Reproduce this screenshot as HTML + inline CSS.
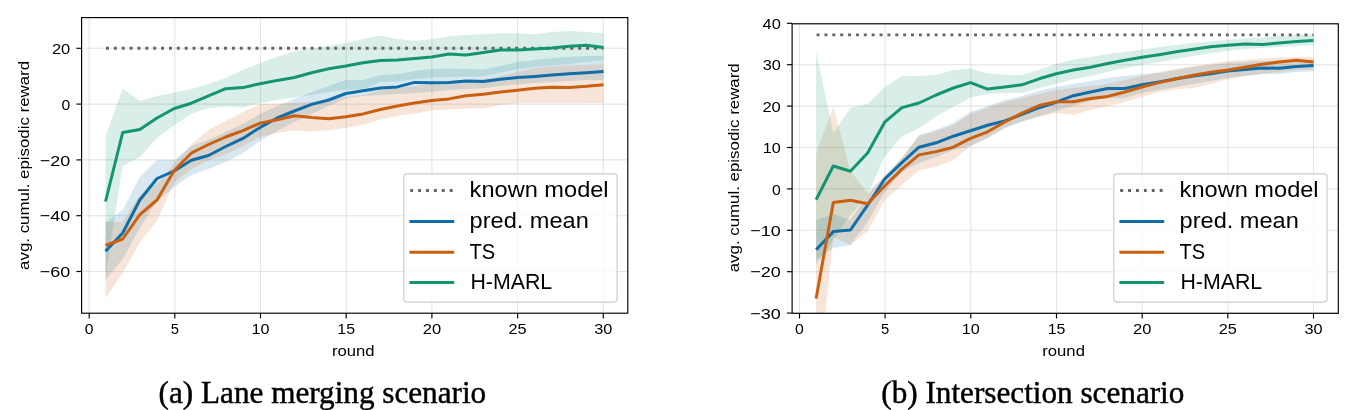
<!DOCTYPE html>
<html><head><meta charset="utf-8"><style>
html,body{margin:0;padding:0;background:#fff;}
svg{display:block;}
svg{will-change:transform;}
</style></head><body>
<svg width="1356" height="410" viewBox="0 0 1356 410">
<rect width="1356" height="410" fill="#fff"/>
<line x1="89.2" y1="17.6" x2="89.2" y2="313.2" stroke="#b0b0b0" stroke-opacity="0.33" stroke-width="1.1"/>
<line x1="174.8" y1="17.6" x2="174.8" y2="313.2" stroke="#b0b0b0" stroke-opacity="0.33" stroke-width="1.1"/>
<line x1="260.5" y1="17.6" x2="260.5" y2="313.2" stroke="#b0b0b0" stroke-opacity="0.33" stroke-width="1.1"/>
<line x1="346.2" y1="17.6" x2="346.2" y2="313.2" stroke="#b0b0b0" stroke-opacity="0.33" stroke-width="1.1"/>
<line x1="431.9" y1="17.6" x2="431.9" y2="313.2" stroke="#b0b0b0" stroke-opacity="0.33" stroke-width="1.1"/>
<line x1="517.6" y1="17.6" x2="517.6" y2="313.2" stroke="#b0b0b0" stroke-opacity="0.33" stroke-width="1.1"/>
<line x1="603.3" y1="17.6" x2="603.3" y2="313.2" stroke="#b0b0b0" stroke-opacity="0.33" stroke-width="1.1"/>
<line x1="81.6" y1="48.3" x2="627.8" y2="48.3" stroke="#b0b0b0" stroke-opacity="0.33" stroke-width="1.1"/>
<line x1="81.6" y1="104.1" x2="627.8" y2="104.1" stroke="#b0b0b0" stroke-opacity="0.33" stroke-width="1.1"/>
<line x1="81.6" y1="159.9" x2="627.8" y2="159.9" stroke="#b0b0b0" stroke-opacity="0.33" stroke-width="1.1"/>
<line x1="81.6" y1="215.7" x2="627.8" y2="215.7" stroke="#b0b0b0" stroke-opacity="0.33" stroke-width="1.1"/>
<line x1="81.6" y1="271.5" x2="627.8" y2="271.5" stroke="#b0b0b0" stroke-opacity="0.33" stroke-width="1.1"/>
<clipPath id="c1"><rect x="81.6" y="17.6" width="546.1999999999999" height="295.59999999999997"/></clipPath>
<g clip-path="url(#c1)">
<polygon points="105.5,222.0 122.7,210.0 139.8,177.0 157.0,160.0 174.2,160.0 191.4,146.0 208.5,140.0 225.7,132.0 242.9,124.0 260.1,114.0 277.2,106.0 294.4,99.0 311.6,92.0 328.7,86.0 345.9,80.0 363.1,80.0 380.3,75.0 397.4,74.0 414.6,71.0 431.8,69.0 448.9,68.5 466.1,69.0 483.3,69.5 500.5,66.0 517.6,62.0 534.8,60.0 552.0,58.0 569.1,57.0 586.3,56.0 603.5,55.7 603.5,80.0 586.3,80.0 569.1,81.0 552.0,82.0 534.8,83.0 517.6,84.3 500.5,86.0 483.3,88.0 466.1,89.0 448.9,90.0 431.8,92.0 414.6,93.0 397.4,94.0 380.3,95.0 363.1,96.0 345.9,98.0 328.7,106.0 311.6,114.0 294.4,122.0 277.2,131.0 260.1,141.0 242.9,153.0 225.7,162.0 208.5,169.0 191.4,175.0 174.2,187.0 157.0,201.0 139.8,228.0 122.7,259.0 105.5,280.0" fill="#0f6ea8" fill-opacity="0.16"/>
<polygon points="105.5,222.0 122.7,222.0 139.8,195.0 157.0,184.0 174.2,163.4 191.4,144.4 208.5,130.0 225.7,121.0 242.9,112.0 260.1,104.0 277.2,104.0 294.4,103.0 311.6,102.0 328.7,100.0 345.9,97.0 363.1,95.0 380.3,90.0 397.4,88.0 414.6,86.0 431.8,84.0 448.9,82.0 466.1,80.0 483.3,79.0 500.5,76.0 517.6,72.0 534.8,68.0 552.0,66.5 569.1,65.5 586.3,65.0 603.5,64.0 603.5,103.0 586.3,103.0 569.1,102.8 552.0,102.8 534.8,102.8 517.6,103.1 500.5,105.0 483.3,108.5 466.1,108.5 448.9,109.4 431.8,110.5 414.6,113.8 397.4,116.0 380.3,119.3 363.1,124.7 345.9,128.0 328.7,130.0 311.6,131.5 294.4,130.5 277.2,133.0 260.1,137.0 242.9,146.0 225.7,154.6 208.5,160.5 191.4,169.3 174.2,182.5 157.0,220.5 139.8,242.5 122.7,273.0 105.5,298.0" fill="#c9600f" fill-opacity="0.16"/>
<polygon points="105.5,136.0 122.7,88.5 139.8,101.0 157.0,96.0 174.2,92.5 191.4,89.0 208.5,84.0 225.7,78.0 242.9,70.0 260.1,63.0 277.2,57.0 294.4,51.5 311.6,48.5 328.7,46.0 345.9,43.0 363.1,39.0 380.3,35.5 397.4,39.0 414.6,40.9 431.8,39.0 448.9,36.5 466.1,35.0 483.3,34.0 500.5,33.2 517.6,33.5 534.8,34.3 552.0,32.0 569.1,31.0 586.3,32.0 603.5,33.2 603.5,60.0 586.3,62.0 569.1,64.0 552.0,65.5 534.8,67.0 517.6,69.0 500.5,72.5 483.3,76.6 466.1,76.8 448.9,77.0 431.8,77.5 414.6,79.0 397.4,81.5 380.3,82.0 363.1,89.0 345.9,89.6 328.7,92.0 311.6,95.0 294.4,97.6 277.2,100.0 260.1,103.0 242.9,107.5 225.7,106.5 208.5,108.0 191.4,114.0 174.2,125.0 157.0,138.0 139.8,157.0 122.7,166.0 105.5,275.0" fill="#149570" fill-opacity="0.16"/>
<line x1="105.5" y1="48.3" x2="603.5" y2="48.3" stroke="#646464" stroke-width="2.9" stroke-dasharray="2.95 4.92" stroke-dashoffset="-0.5"/>
<polyline points="105.5,251.3 122.7,233.0 139.8,200.0 157.0,178.5 174.2,171.0 191.4,160.2 208.5,155.5 225.7,146.5 242.9,138.4 260.1,127.4 277.2,118.0 294.4,111.0 311.6,104.4 328.7,100.0 345.9,93.5 363.1,90.7 380.3,88.0 397.4,86.9 414.6,82.4 431.8,82.8 448.9,82.6 466.1,81.0 483.3,81.5 500.5,79.3 517.6,77.5 534.8,76.6 552.0,74.9 569.1,73.7 586.3,72.7 603.5,71.5" fill="none" stroke="#0f6ea8" stroke-width="3" stroke-linejoin="round" stroke-linecap="butt"/>
<polyline points="105.5,245.4 122.7,239.0 139.8,214.7 157.0,200.0 174.2,170.5 191.4,153.0 208.5,144.5 225.7,137.0 242.9,130.7 260.1,123.1 277.2,119.8 294.4,115.8 311.6,117.6 328.7,118.7 345.9,116.8 363.1,113.9 380.3,109.5 397.4,106.0 414.6,103.0 431.8,100.4 448.9,98.9 466.1,95.7 483.3,94.3 500.5,92.1 517.6,90.2 534.8,88.2 552.0,87.2 569.1,87.4 586.3,86.3 603.5,84.8" fill="none" stroke="#c9600f" stroke-width="3" stroke-linejoin="round" stroke-linecap="butt"/>
<polyline points="105.5,201.5 122.7,132.5 139.8,129.5 157.0,118.0 174.2,108.5 191.4,103.2 208.5,95.8 225.7,88.7 242.9,87.6 260.1,83.7 277.2,80.4 294.4,77.5 311.6,72.7 328.7,68.7 345.9,66.0 363.1,62.8 380.3,60.6 397.4,59.9 414.6,58.4 431.8,56.9 448.9,54.0 466.1,55.1 483.3,52.5 500.5,50.1 517.6,50.1 534.8,49.0 552.0,48.1 569.1,46.3 586.3,45.2 603.5,47.4" fill="none" stroke="#149570" stroke-width="3" stroke-linejoin="round" stroke-linecap="butt"/>
</g>
<rect x="81.6" y="17.6" width="546.1999999999999" height="295.59999999999997" fill="none" stroke="#000" stroke-width="1.15"/>
<line x1="89.2" y1="313.2" x2="89.2" y2="318.4" stroke="#000" stroke-width="1.15"/>
<text x="89.2" y="333.9" font-size="15.4" font-family="Liberation Sans" text-anchor="middle" textLength="8.76" lengthAdjust="spacingAndGlyphs">0</text>
<line x1="174.8" y1="313.2" x2="174.8" y2="318.4" stroke="#000" stroke-width="1.15"/>
<text x="174.8" y="333.9" font-size="15.4" font-family="Liberation Sans" text-anchor="middle" textLength="8.24" lengthAdjust="spacingAndGlyphs">5</text>
<line x1="260.5" y1="313.2" x2="260.5" y2="318.4" stroke="#000" stroke-width="1.15"/>
<text x="260.5" y="333.9" font-size="15.4" font-family="Liberation Sans" text-anchor="middle" textLength="17.99" lengthAdjust="spacingAndGlyphs">10</text>
<line x1="346.2" y1="313.2" x2="346.2" y2="318.4" stroke="#000" stroke-width="1.15"/>
<text x="346.2" y="333.9" font-size="15.4" font-family="Liberation Sans" text-anchor="middle" textLength="17.70" lengthAdjust="spacingAndGlyphs">15</text>
<line x1="431.9" y1="313.2" x2="431.9" y2="318.4" stroke="#000" stroke-width="1.15"/>
<text x="431.9" y="333.9" font-size="15.4" font-family="Liberation Sans" text-anchor="middle" textLength="18.40" lengthAdjust="spacingAndGlyphs">20</text>
<line x1="517.6" y1="313.2" x2="517.6" y2="318.4" stroke="#000" stroke-width="1.15"/>
<text x="517.6" y="333.9" font-size="15.4" font-family="Liberation Sans" text-anchor="middle" textLength="18.12" lengthAdjust="spacingAndGlyphs">25</text>
<line x1="603.3" y1="313.2" x2="603.3" y2="318.4" stroke="#000" stroke-width="1.15"/>
<text x="603.3" y="333.9" font-size="15.4" font-family="Liberation Sans" text-anchor="middle" textLength="18.14" lengthAdjust="spacingAndGlyphs">30</text>
<line x1="76.39999999999999" y1="48.3" x2="81.6" y2="48.3" stroke="#000" stroke-width="1.15"/>
<text x="70.3" y="53.90" font-size="15.4" font-family="Liberation Sans" text-anchor="end" textLength="18.40" lengthAdjust="spacingAndGlyphs">20</text>
<line x1="76.39999999999999" y1="104.1" x2="81.6" y2="104.1" stroke="#000" stroke-width="1.15"/>
<text x="70.3" y="109.70" font-size="15.4" font-family="Liberation Sans" text-anchor="end" textLength="8.76" lengthAdjust="spacingAndGlyphs">0</text>
<line x1="76.39999999999999" y1="159.9" x2="81.6" y2="159.9" stroke="#000" stroke-width="1.15"/>
<text x="70.3" y="165.50" font-size="15.4" font-family="Liberation Sans" text-anchor="end" textLength="30.50" lengthAdjust="spacingAndGlyphs">−20</text>
<line x1="76.39999999999999" y1="215.7" x2="81.6" y2="215.7" stroke="#000" stroke-width="1.15"/>
<text x="70.3" y="221.30" font-size="15.4" font-family="Liberation Sans" text-anchor="end" textLength="30.50" lengthAdjust="spacingAndGlyphs">−40</text>
<line x1="76.39999999999999" y1="271.5" x2="81.6" y2="271.5" stroke="#000" stroke-width="1.15"/>
<text x="70.3" y="277.10" font-size="15.4" font-family="Liberation Sans" text-anchor="end" textLength="30.50" lengthAdjust="spacingAndGlyphs">−60</text>
<text x="353.3" y="355.6" font-size="15.2" font-family="Liberation Sans" text-anchor="middle" textLength="42.65" lengthAdjust="spacingAndGlyphs">round</text>
<text x="0" y="0" font-size="15.2" font-family="Liberation Sans" text-anchor="middle" textLength="208.98" lengthAdjust="spacingAndGlyphs" transform="translate(28.6,165.4) rotate(-90)">avg. cumul. episodic reward</text>
<rect x="403.8" y="173.8" width="213.3" height="128.3" rx="3" ry="3" fill="#fff" fill-opacity="0.8" stroke="#cccccc" stroke-width="1.15"/>
<line x1="410.2" y1="190.5" x2="453.4" y2="190.5" stroke="#646464" stroke-width="2.9" stroke-dasharray="2.9 5.0"/>
<line x1="409.4" y1="221.6" x2="454.2" y2="221.6" stroke="#0f6ea8" stroke-width="3"/>
<line x1="409.4" y1="252.2" x2="454.2" y2="252.2" stroke="#c9600f" stroke-width="3"/>
<line x1="409.4" y1="282.6" x2="454.2" y2="282.6" stroke="#149570" stroke-width="3"/>
<text x="469.6" y="197.3" font-size="21.4" font-family="Liberation Sans" text-anchor="start" textLength="139.03" lengthAdjust="spacingAndGlyphs">known model</text>
<text x="469.6" y="227.9" font-size="21.4" font-family="Liberation Sans" text-anchor="start" textLength="119.17" lengthAdjust="spacingAndGlyphs">pred. mean</text>
<text x="469.6" y="258.8" font-size="21.4" font-family="Liberation Sans" text-anchor="start" textLength="25.64" lengthAdjust="spacingAndGlyphs">TS</text>
<text x="470.4" y="289.1" font-size="21.4" font-family="Liberation Sans" text-anchor="start" textLength="81.80" lengthAdjust="spacingAndGlyphs">H-MARL</text>
<line x1="799.5" y1="23.8" x2="799.5" y2="313.3" stroke="#b0b0b0" stroke-opacity="0.33" stroke-width="1.1"/>
<line x1="885.1" y1="23.8" x2="885.1" y2="313.3" stroke="#b0b0b0" stroke-opacity="0.33" stroke-width="1.1"/>
<line x1="970.8" y1="23.8" x2="970.8" y2="313.3" stroke="#b0b0b0" stroke-opacity="0.33" stroke-width="1.1"/>
<line x1="1056.5" y1="23.8" x2="1056.5" y2="313.3" stroke="#b0b0b0" stroke-opacity="0.33" stroke-width="1.1"/>
<line x1="1142.2" y1="23.8" x2="1142.2" y2="313.3" stroke="#b0b0b0" stroke-opacity="0.33" stroke-width="1.1"/>
<line x1="1227.8" y1="23.8" x2="1227.8" y2="313.3" stroke="#b0b0b0" stroke-opacity="0.33" stroke-width="1.1"/>
<line x1="1313.5" y1="23.8" x2="1313.5" y2="313.3" stroke="#b0b0b0" stroke-opacity="0.33" stroke-width="1.1"/>
<line x1="792.1" y1="23.3" x2="1338.3" y2="23.3" stroke="#b0b0b0" stroke-opacity="0.33" stroke-width="1.1"/>
<line x1="792.1" y1="64.7" x2="1338.3" y2="64.7" stroke="#b0b0b0" stroke-opacity="0.33" stroke-width="1.1"/>
<line x1="792.1" y1="106.1" x2="1338.3" y2="106.1" stroke="#b0b0b0" stroke-opacity="0.33" stroke-width="1.1"/>
<line x1="792.1" y1="147.5" x2="1338.3" y2="147.5" stroke="#b0b0b0" stroke-opacity="0.33" stroke-width="1.1"/>
<line x1="792.1" y1="188.9" x2="1338.3" y2="188.9" stroke="#b0b0b0" stroke-opacity="0.33" stroke-width="1.1"/>
<line x1="792.1" y1="230.3" x2="1338.3" y2="230.3" stroke="#b0b0b0" stroke-opacity="0.33" stroke-width="1.1"/>
<line x1="792.1" y1="271.7" x2="1338.3" y2="271.7" stroke="#b0b0b0" stroke-opacity="0.33" stroke-width="1.1"/>
<line x1="792.1" y1="313.1" x2="1338.3" y2="313.1" stroke="#b0b0b0" stroke-opacity="0.33" stroke-width="1.1"/>
<clipPath id="c2"><rect x="792.1" y="23.8" width="546.1999999999999" height="289.5"/></clipPath>
<g clip-path="url(#c2)">
<polygon points="816.1,220.0 833.3,214.0 850.4,220.0 867.6,195.0 884.7,176.0 901.9,158.0 919.0,135.0 936.2,129.7 953.3,123.0 970.5,112.0 987.6,106.0 1004.8,100.0 1021.9,96.0 1039.1,91.0 1056.2,87.0 1073.4,84.0 1090.5,81.0 1107.7,78.0 1124.8,76.0 1142.0,74.0 1159.1,73.0 1176.3,70.0 1193.4,67.0 1210.6,65.0 1227.8,63.0 1244.9,62.0 1262.1,61.0 1279.2,60.5 1296.4,60.0 1313.5,59.5 1313.5,71.6 1296.4,72.0 1279.2,74.0 1262.1,74.0 1244.9,76.0 1227.8,78.0 1210.6,81.0 1193.4,84.0 1176.3,87.0 1159.1,90.0 1142.0,93.0 1124.8,98.0 1107.7,98.0 1090.5,101.0 1073.4,106.0 1056.2,111.0 1039.1,116.0 1021.9,122.0 1004.8,128.0 987.6,138.0 970.5,146.0 953.3,150.0 936.2,157.0 919.0,163.0 901.9,172.0 884.7,192.0 867.6,222.0 850.4,245.0 833.3,248.0 816.1,260.0" fill="#0f6ea8" fill-opacity="0.16"/>
<polygon points="816.1,153.0 833.3,106.6 850.4,171.0 867.6,193.0 884.7,176.0 901.9,158.0 919.0,136.0 936.2,131.0 953.3,125.0 970.5,114.0 987.6,108.0 1004.8,102.0 1021.9,98.0 1039.1,94.0 1056.2,90.0 1073.4,88.0 1090.5,86.0 1107.7,84.0 1124.8,80.0 1142.0,76.0 1159.1,72.0 1176.3,69.0 1193.4,66.0 1210.6,63.5 1227.8,61.0 1244.9,60.0 1262.1,58.5 1279.2,57.5 1296.4,57.0 1313.5,57.3 1313.5,69.4 1296.4,70.0 1279.2,72.0 1262.1,74.0 1244.9,76.0 1227.8,79.3 1210.6,84.0 1193.4,88.0 1176.3,89.0 1159.1,92.0 1142.0,97.0 1124.8,102.0 1107.7,106.0 1090.5,110.0 1073.4,115.0 1056.2,113.0 1039.1,117.0 1021.9,121.0 1004.8,128.0 987.6,138.0 970.5,146.0 953.3,160.0 936.2,167.0 919.0,170.0 901.9,185.0 884.7,200.0 867.6,231.0 850.4,245.0 833.3,237.0 816.1,400.0" fill="#c9600f" fill-opacity="0.16"/>
<polygon points="816.1,52.0 833.3,133.0 850.4,108.0 867.6,103.7 884.7,87.0 901.9,76.0 919.0,76.0 936.2,74.7 953.3,70.2 970.5,68.6 987.6,73.4 1004.8,74.7 1021.9,75.0 1039.1,70.0 1056.2,64.0 1073.4,59.5 1090.5,57.0 1107.7,54.0 1124.8,52.0 1142.0,49.6 1159.1,47.0 1176.3,45.0 1193.4,43.0 1210.6,41.5 1227.8,39.8 1244.9,38.5 1262.1,37.5 1279.2,36.0 1296.4,35.0 1313.5,34.3 1313.5,45.2 1296.4,46.0 1279.2,47.0 1262.1,48.0 1244.9,49.0 1227.8,50.7 1210.6,53.0 1193.4,56.0 1176.3,59.0 1159.1,62.0 1142.0,65.0 1124.8,68.0 1107.7,72.0 1090.5,76.0 1073.4,79.3 1056.2,84.0 1039.1,88.0 1021.9,93.0 1004.8,93.0 987.6,94.0 970.5,97.5 953.3,106.9 936.2,116.3 919.0,128.4 901.9,136.4 884.7,156.5 867.6,195.0 850.4,215.0 833.3,240.0 816.1,265.0" fill="#149570" fill-opacity="0.16"/>
<line x1="816.1" y1="34.9" x2="1313.5" y2="34.9" stroke="#646464" stroke-width="2.9" stroke-dasharray="2.95 4.92" stroke-dashoffset="-0.5"/>
<polyline points="816.1,249.8 833.3,231.6 850.4,230.0 867.6,205.2 884.7,179.0 901.9,162.6 919.0,147.2 936.2,142.8 953.3,136.2 970.5,130.7 987.6,125.2 1004.8,120.9 1021.9,114.3 1039.1,107.7 1056.2,102.2 1073.4,95.7 1090.5,92.0 1107.7,88.5 1124.8,88.5 1142.0,84.8 1159.1,81.9 1176.3,78.8 1193.4,76.0 1210.6,73.8 1227.8,70.9 1244.9,69.4 1262.1,67.9 1279.2,68.3 1296.4,66.5 1313.5,65.4" fill="none" stroke="#0f6ea8" stroke-width="3" stroke-linejoin="round" stroke-linecap="butt"/>
<polyline points="816.1,298.5 833.3,202.4 850.4,200.2 867.6,203.7 884.7,186.0 901.9,169.1 919.0,154.9 936.2,151.6 953.3,147.2 970.5,138.4 987.6,131.8 1004.8,122.0 1021.9,113.2 1039.1,105.5 1056.2,101.8 1073.4,101.7 1090.5,98.6 1107.7,96.4 1124.8,92.0 1142.0,87.0 1159.1,82.6 1176.3,78.8 1193.4,75.3 1210.6,72.2 1227.8,70.0 1244.9,67.2 1262.1,64.3 1279.2,62.1 1296.4,60.2 1313.5,62.1" fill="none" stroke="#c9600f" stroke-width="3" stroke-linejoin="round" stroke-linecap="butt"/>
<polyline points="816.1,199.8 833.3,166.0 850.4,171.3 867.6,153.0 884.7,122.2 901.9,107.6 919.0,103.0 936.2,95.0 953.3,88.0 970.5,82.6 987.6,89.1 1004.8,86.9 1021.9,84.8 1039.1,78.8 1056.2,73.8 1073.4,70.0 1090.5,67.2 1107.7,63.5 1124.8,60.2 1142.0,57.3 1159.1,54.7 1176.3,51.8 1193.4,49.2 1210.6,46.8 1227.8,45.2 1244.9,44.1 1262.1,44.6 1279.2,43.0 1296.4,41.5 1313.5,40.4" fill="none" stroke="#149570" stroke-width="3" stroke-linejoin="round" stroke-linecap="butt"/>
</g>
<rect x="792.1" y="23.8" width="546.1999999999999" height="289.5" fill="none" stroke="#000" stroke-width="1.15"/>
<line x1="799.5" y1="313.3" x2="799.5" y2="318.5" stroke="#000" stroke-width="1.15"/>
<text x="799.5" y="333.9" font-size="15.4" font-family="Liberation Sans" text-anchor="middle" textLength="8.76" lengthAdjust="spacingAndGlyphs">0</text>
<line x1="885.1" y1="313.3" x2="885.1" y2="318.5" stroke="#000" stroke-width="1.15"/>
<text x="885.1" y="333.9" font-size="15.4" font-family="Liberation Sans" text-anchor="middle" textLength="8.24" lengthAdjust="spacingAndGlyphs">5</text>
<line x1="970.8" y1="313.3" x2="970.8" y2="318.5" stroke="#000" stroke-width="1.15"/>
<text x="970.8" y="333.9" font-size="15.4" font-family="Liberation Sans" text-anchor="middle" textLength="17.99" lengthAdjust="spacingAndGlyphs">10</text>
<line x1="1056.5" y1="313.3" x2="1056.5" y2="318.5" stroke="#000" stroke-width="1.15"/>
<text x="1056.5" y="333.9" font-size="15.4" font-family="Liberation Sans" text-anchor="middle" textLength="17.70" lengthAdjust="spacingAndGlyphs">15</text>
<line x1="1142.2" y1="313.3" x2="1142.2" y2="318.5" stroke="#000" stroke-width="1.15"/>
<text x="1142.2" y="333.9" font-size="15.4" font-family="Liberation Sans" text-anchor="middle" textLength="18.40" lengthAdjust="spacingAndGlyphs">20</text>
<line x1="1227.8" y1="313.3" x2="1227.8" y2="318.5" stroke="#000" stroke-width="1.15"/>
<text x="1227.8" y="333.9" font-size="15.4" font-family="Liberation Sans" text-anchor="middle" textLength="18.12" lengthAdjust="spacingAndGlyphs">25</text>
<line x1="1313.5" y1="313.3" x2="1313.5" y2="318.5" stroke="#000" stroke-width="1.15"/>
<text x="1313.5" y="333.9" font-size="15.4" font-family="Liberation Sans" text-anchor="middle" textLength="18.14" lengthAdjust="spacingAndGlyphs">30</text>
<line x1="786.9" y1="23.3" x2="792.1" y2="23.3" stroke="#000" stroke-width="1.15"/>
<text x="780.8" y="28.94" font-size="15.4" font-family="Liberation Sans" text-anchor="end" textLength="18.27" lengthAdjust="spacingAndGlyphs">40</text>
<line x1="786.9" y1="64.7" x2="792.1" y2="64.7" stroke="#000" stroke-width="1.15"/>
<text x="780.8" y="70.33" font-size="15.4" font-family="Liberation Sans" text-anchor="end" textLength="18.14" lengthAdjust="spacingAndGlyphs">30</text>
<line x1="786.9" y1="106.1" x2="792.1" y2="106.1" stroke="#000" stroke-width="1.15"/>
<text x="780.8" y="111.72" font-size="15.4" font-family="Liberation Sans" text-anchor="end" textLength="18.40" lengthAdjust="spacingAndGlyphs">20</text>
<line x1="786.9" y1="147.5" x2="792.1" y2="147.5" stroke="#000" stroke-width="1.15"/>
<text x="780.8" y="153.11" font-size="15.4" font-family="Liberation Sans" text-anchor="end" textLength="17.99" lengthAdjust="spacingAndGlyphs">10</text>
<line x1="786.9" y1="188.9" x2="792.1" y2="188.9" stroke="#000" stroke-width="1.15"/>
<text x="780.8" y="194.50" font-size="15.4" font-family="Liberation Sans" text-anchor="end" textLength="8.76" lengthAdjust="spacingAndGlyphs">0</text>
<line x1="786.9" y1="230.3" x2="792.1" y2="230.3" stroke="#000" stroke-width="1.15"/>
<text x="780.8" y="235.89" font-size="15.4" font-family="Liberation Sans" text-anchor="end" textLength="30.50" lengthAdjust="spacingAndGlyphs">−10</text>
<line x1="786.9" y1="271.7" x2="792.1" y2="271.7" stroke="#000" stroke-width="1.15"/>
<text x="780.8" y="277.28" font-size="15.4" font-family="Liberation Sans" text-anchor="end" textLength="30.50" lengthAdjust="spacingAndGlyphs">−20</text>
<line x1="786.9" y1="313.1" x2="792.1" y2="313.1" stroke="#000" stroke-width="1.15"/>
<text x="780.8" y="318.67" font-size="15.4" font-family="Liberation Sans" text-anchor="end" textLength="30.50" lengthAdjust="spacingAndGlyphs">−30</text>
<text x="1063.6" y="355.6" font-size="15.2" font-family="Liberation Sans" text-anchor="middle" textLength="42.65" lengthAdjust="spacingAndGlyphs">round</text>
<text x="0" y="0" font-size="15.2" font-family="Liberation Sans" text-anchor="middle" textLength="208.98" lengthAdjust="spacingAndGlyphs" transform="translate(739.3,167.8) rotate(-90)">avg. cumul. episodic reward</text>
<rect x="1113.8" y="173.8" width="213.3" height="128.3" rx="3" ry="3" fill="#fff" fill-opacity="0.8" stroke="#cccccc" stroke-width="1.15"/>
<line x1="1120.2" y1="190.5" x2="1163.4" y2="190.5" stroke="#646464" stroke-width="2.9" stroke-dasharray="2.9 5.0"/>
<line x1="1119.4" y1="221.6" x2="1164.2" y2="221.6" stroke="#0f6ea8" stroke-width="3"/>
<line x1="1119.4" y1="252.2" x2="1164.2" y2="252.2" stroke="#c9600f" stroke-width="3"/>
<line x1="1119.4" y1="282.6" x2="1164.2" y2="282.6" stroke="#149570" stroke-width="3"/>
<text x="1179.6" y="197.3" font-size="21.4" font-family="Liberation Sans" text-anchor="start" textLength="139.03" lengthAdjust="spacingAndGlyphs">known model</text>
<text x="1179.6" y="227.9" font-size="21.4" font-family="Liberation Sans" text-anchor="start" textLength="119.17" lengthAdjust="spacingAndGlyphs">pred. mean</text>
<text x="1179.6" y="258.8" font-size="21.4" font-family="Liberation Sans" text-anchor="start" textLength="25.64" lengthAdjust="spacingAndGlyphs">TS</text>
<text x="1180.4" y="289.1" font-size="21.4" font-family="Liberation Sans" text-anchor="start" textLength="81.80" lengthAdjust="spacingAndGlyphs">H-MARL</text>
<text x="158.6" y="402.7" font-size="31.2" font-family="Liberation Serif" text-anchor="start" stroke="#000" stroke-width="0.45">(a) Lane merging scenario</text>
<text x="881.3" y="402.7" font-size="31.2" font-family="Liberation Serif" text-anchor="start" stroke="#000" stroke-width="0.45">(b) Intersection scenario</text>
</svg>
</body></html>
